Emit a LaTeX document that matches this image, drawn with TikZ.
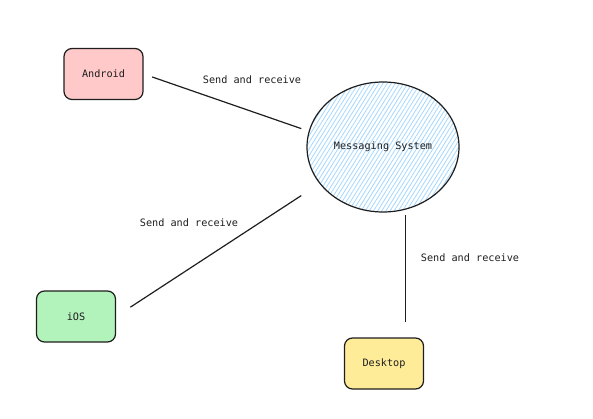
\documentclass[tikz,border=0pt]{standalone}
\usepackage{fontspec}
\setmonofont{DejaVu Sans Mono}
\usetikzlibrary{shapes.geometric,patterns.meta}
\definecolor{ink}{HTML}{1E1E1E}
\definecolor{androidred}{HTML}{FFC9C9}
\definecolor{iosgreen}{HTML}{B2F2BB}
\definecolor{desktopyellow}{HTML}{FFEC99}
\definecolor{hatchblue}{HTML}{A5D8FF}
\tikzset{
  client/.style={draw=ink, line width=1.2pt, rounded corners=8pt,
    minimum width=79pt, minimum height=51pt, text=ink, font=\ttfamily\fontsize{10.2}{12}\selectfont},
  hub/.style={ellipse, draw=ink, line width=1.2pt, minimum width=152pt, minimum height=130pt,
    text=ink, font=\ttfamily\fontsize{10.2}{12}\selectfont,
    preaction={fill=white},
    pattern={Lines[angle=58,distance=3.5pt,line width=0.8pt]}, pattern color=hatchblue},
  link/.style={draw=ink, line width=1.2pt},
  lbl/.style={text=ink, font=\ttfamily\fontsize{10.2}{12}\selectfont, inner sep=0pt}
}
\begin{document}
\begin{tikzpicture}[x=1pt, y=-1pt]
  \useasboundingbox (0,0) rectangle (593,419);
  \node[hub] (msg) at (383,147) {Messaging System};
  \node[client, fill=androidred] (android) at (103.5,74) {Android};
  \node[client, fill=iosgreen] (ios) at (76,316.5) {iOS};
  \node[client, fill=desktopyellow] (desktop) at (384,363.5) {Desktop};
  \begin{scope}[link]
    \draw[shorten <=9pt, shorten >=8pt] (android.east) -- (msg.168);
    \draw[shorten <=17pt, shorten >=22pt] (ios.east) -- (msg.210);
    \draw[shorten <=6pt, shorten >=15pt] (msg.290) -- (msg.290 |- desktop.north);
  \end{scope}
  \node[lbl] (sr1) at (252,80) {Send and receive};
  \node[lbl] (sr2) at (189,223) {Send and receive};
  \node[lbl] (sr3) at (470,258) {Send and receive};
\end{tikzpicture}
\end{document}
